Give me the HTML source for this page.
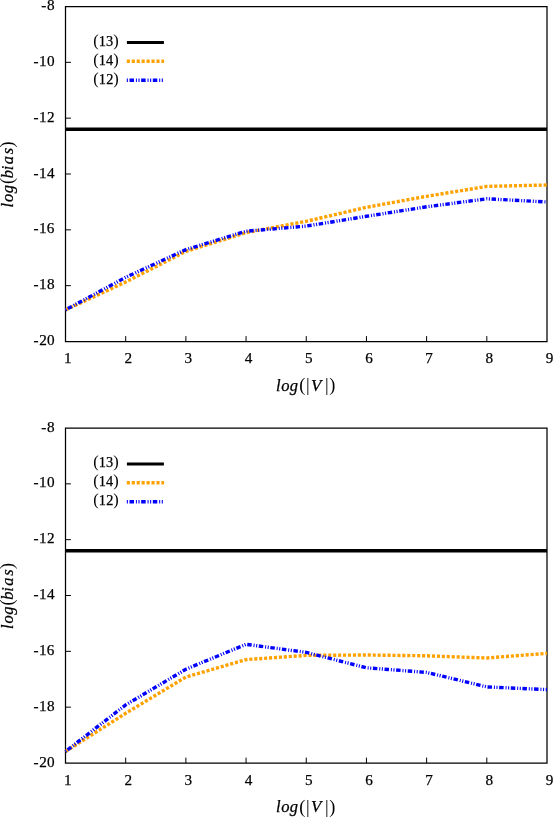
<!DOCTYPE html>
<html><head><meta charset="utf-8"><title>log(bias) vs log(|V|)</title>
<style>
html,body{margin:0;padding:0;background:#fff;}
body{width:553px;height:817px;overflow:hidden;}
svg{display:block;}
text{font-family:"Liberation Serif","DejaVu Serif",serif;fill:#000;stroke:#000;stroke-width:0.25px;}
.tk{stroke:#000;stroke-width:1;}
.ns{stroke:none;}
.fr{fill:none;stroke:#000;stroke-width:1.25;stroke-linejoin:miter;}
.or{fill:none;stroke:#ffa200;stroke-width:3.4;stroke-dasharray:3.1 1.84;}
.bl{fill:none;stroke:#0000ff;stroke-width:3.4;stroke-dasharray:1.1 1.6 4.5 1.9 1.0 1.55;}
</style></head>
<body>
<svg width="553" height="817" viewBox="0 0 553 817">
<text><tspan x="41.31 46.95" y="10.10" font-size="15.2">-8</tspan></text>
<line x1="65.5" y1="62.33" x2="70.9" y2="62.33" class="tk"/>
<text><tspan x="33.61 39.04 46.95" y="65.93" font-size="15.2">-10</tspan></text>
<line x1="65.5" y1="118.17" x2="70.9" y2="118.17" class="tk"/>
<text><tspan x="33.61 39.04 47.04" y="121.77" font-size="15.2">-12</tspan></text>
<line x1="65.5" y1="174.00" x2="70.9" y2="174.00" class="tk"/>
<text><tspan x="33.61 39.04 46.92" y="177.60" font-size="15.2">-14</tspan></text>
<line x1="65.5" y1="229.83" x2="70.9" y2="229.83" class="tk"/>
<text><tspan x="33.61 39.04 46.85" y="233.43" font-size="15.2">-16</tspan></text>
<line x1="65.5" y1="285.67" x2="70.9" y2="285.67" class="tk"/>
<text><tspan x="33.61 39.04 46.95" y="289.27" font-size="15.2">-18</tspan></text>
<text><tspan x="33.61 39.34 46.95" y="345.10" font-size="15.2">-20</tspan></text>
<text><tspan x="64.09" y="363.30" font-size="15.2">1</tspan></text>
<line x1="125.69" y1="341.5" x2="125.69" y2="336.10" class="tk"/>
<text><tspan x="124.57" y="363.30" font-size="15.2">2</tspan></text>
<line x1="185.88" y1="341.5" x2="185.88" y2="336.10" class="tk"/>
<text><tspan x="184.61" y="363.30" font-size="15.2">3</tspan></text>
<line x1="246.06" y1="341.5" x2="246.06" y2="336.10" class="tk"/>
<text><tspan x="244.83" y="363.30" font-size="15.2">4</tspan></text>
<line x1="306.25" y1="341.5" x2="306.25" y2="336.10" class="tk"/>
<text><tspan x="304.91" y="363.30" font-size="15.2">5</tspan></text>
<line x1="366.44" y1="341.5" x2="366.44" y2="336.10" class="tk"/>
<text><tspan x="365.14" y="363.30" font-size="15.2">6</tspan></text>
<line x1="426.62" y1="341.5" x2="426.62" y2="336.10" class="tk"/>
<text><tspan x="425.14" y="363.30" font-size="15.2">7</tspan></text>
<line x1="486.81" y1="341.5" x2="486.81" y2="336.10" class="tk"/>
<text><tspan x="485.61" y="363.30" font-size="15.2">8</tspan></text>
<text><tspan x="545.87" y="363.30" font-size="15.2">9</tspan></text>
<text><tspan x="276.10 281.18 289.76" y="390.80" font-size="16.5" font-style="italic">log</tspan><tspan x="299.20 305.92" y="391.10" font-size="18.3" class="ns">(|</tspan><tspan x="311.00" y="390.80" font-size="17.0" font-style="italic">V</tspan><tspan x="325.02 329.31" y="391.10" font-size="18.3" class="ns">|)</tspan></text>
<g transform="translate(13.2 0) rotate(-90)"><text><tspan x="-207.45 -201.93 -193.34" y="0.00" font-size="16.5" font-style="italic">log</tspan><tspan x="-184.07" y="0.10" font-size="18.4" class="ns">(</tspan><tspan x="-178.13 -170.30 -164.36 -154.21" y="0.00" font-size="16.5" font-style="italic">bias</tspan><tspan x="-147.46" y="0.10" font-size="18.4" class="ns">)</tspan></text></g>
<path d="M65.5 6.5 H547.0 V341.5 H65.5 Z" class="fr"/>
<line x1="65.5" y1="129.25" x2="547.0" y2="129.25" stroke="#000" stroke-width="3.4"/>
<polyline points="65.50,309.9 125.69,282.0 185.88,251.4 246.06,232.6 306.25,221.3 366.44,207.3 426.62,196.3 486.81,186.4 547.00,185.0" class="or"/>
<polyline points="65.50,309.9 125.69,277.3 185.88,249.6 246.06,231.2 306.25,226.1 366.44,216.3 426.62,206.8 486.81,198.8 547.00,202.0" class="bl"/>
<text><tspan x="93.37" y="45.70" font-size="16.4" class="ns">(</tspan><tspan x="98.78 106.06" y="45.50" font-size="14.3">13</tspan><tspan x="113.22" y="45.70" font-size="16.4" class="ns">)</tspan></text>
<text><tspan x="93.37" y="64.80" font-size="16.4" class="ns">(</tspan><tspan x="98.78 106.10" y="64.60" font-size="14.3">14</tspan><tspan x="113.22" y="64.80" font-size="16.4" class="ns">)</tspan></text>
<text><tspan x="93.37" y="83.70" font-size="16.4" class="ns">(</tspan><tspan x="98.78 106.21" y="83.50" font-size="14.3">12</tspan><tspan x="113.22" y="83.70" font-size="16.4" class="ns">)</tspan></text>
<line x1="126.9" y1="42.45" x2="163.9" y2="42.45" stroke="#000" stroke-width="3.1"/>
<line x1="126.8" y1="61.30" x2="164" y2="61.30" class="or"/>
<line x1="126.8" y1="80.20" x2="164.3" y2="80.20" class="bl"/>
<text><tspan x="41.31 46.95" y="431.60" font-size="15.2">-8</tspan></text>
<line x1="65.5" y1="483.83" x2="70.9" y2="483.83" class="tk"/>
<text><tspan x="33.61 39.04 46.95" y="487.43" font-size="15.2">-10</tspan></text>
<line x1="65.5" y1="539.67" x2="70.9" y2="539.67" class="tk"/>
<text><tspan x="33.61 39.04 47.04" y="543.27" font-size="15.2">-12</tspan></text>
<line x1="65.5" y1="595.50" x2="70.9" y2="595.50" class="tk"/>
<text><tspan x="33.61 39.04 46.92" y="599.10" font-size="15.2">-14</tspan></text>
<line x1="65.5" y1="651.33" x2="70.9" y2="651.33" class="tk"/>
<text><tspan x="33.61 39.04 46.85" y="654.93" font-size="15.2">-16</tspan></text>
<line x1="65.5" y1="707.17" x2="70.9" y2="707.17" class="tk"/>
<text><tspan x="33.61 39.04 46.95" y="710.77" font-size="15.2">-18</tspan></text>
<text><tspan x="33.61 39.34 46.95" y="766.60" font-size="15.2">-20</tspan></text>
<text><tspan x="64.09" y="784.80" font-size="15.2">1</tspan></text>
<line x1="125.69" y1="763.0" x2="125.69" y2="757.60" class="tk"/>
<text><tspan x="124.57" y="784.80" font-size="15.2">2</tspan></text>
<line x1="185.88" y1="763.0" x2="185.88" y2="757.60" class="tk"/>
<text><tspan x="184.61" y="784.80" font-size="15.2">3</tspan></text>
<line x1="246.06" y1="763.0" x2="246.06" y2="757.60" class="tk"/>
<text><tspan x="244.83" y="784.80" font-size="15.2">4</tspan></text>
<line x1="306.25" y1="763.0" x2="306.25" y2="757.60" class="tk"/>
<text><tspan x="304.91" y="784.80" font-size="15.2">5</tspan></text>
<line x1="366.44" y1="763.0" x2="366.44" y2="757.60" class="tk"/>
<text><tspan x="365.14" y="784.80" font-size="15.2">6</tspan></text>
<line x1="426.62" y1="763.0" x2="426.62" y2="757.60" class="tk"/>
<text><tspan x="425.14" y="784.80" font-size="15.2">7</tspan></text>
<line x1="486.81" y1="763.0" x2="486.81" y2="757.60" class="tk"/>
<text><tspan x="485.61" y="784.80" font-size="15.2">8</tspan></text>
<text><tspan x="545.87" y="784.80" font-size="15.2">9</tspan></text>
<text><tspan x="276.10 281.18 289.76" y="812.30" font-size="16.5" font-style="italic">log</tspan><tspan x="299.20 305.92" y="812.60" font-size="18.3" class="ns">(|</tspan><tspan x="311.00" y="812.30" font-size="17.0" font-style="italic">V</tspan><tspan x="325.02 329.31" y="812.60" font-size="18.3" class="ns">|)</tspan></text>
<g transform="translate(13.2 0) rotate(-90)"><text><tspan x="-628.95 -623.42 -614.84" y="0.00" font-size="16.5" font-style="italic">log</tspan><tspan x="-605.57" y="0.10" font-size="18.4" class="ns">(</tspan><tspan x="-599.63 -591.80 -585.86 -575.71" y="0.00" font-size="16.5" font-style="italic">bias</tspan><tspan x="-568.96" y="0.10" font-size="18.4" class="ns">)</tspan></text></g>
<path d="M65.5 428.0 H547.0 V763.0 H65.5 Z" class="fr"/>
<line x1="65.5" y1="550.75" x2="547.0" y2="550.75" stroke="#000" stroke-width="3.4"/>
<polyline points="65.50,751.5 125.69,713.3 185.88,677.0 246.06,659.6 306.25,655.4 366.44,655.0 426.62,655.8 486.81,658.0 547.00,653.4" class="or"/>
<polyline points="65.50,751.5 125.69,704.9 185.88,669.2 246.06,644.3 306.25,652.4 366.44,667.8 426.62,672.4 486.81,686.9 547.00,689.6" class="bl"/>
<text><tspan x="93.37" y="467.20" font-size="16.4" class="ns">(</tspan><tspan x="98.78 106.06" y="467.00" font-size="14.3">13</tspan><tspan x="113.22" y="467.20" font-size="16.4" class="ns">)</tspan></text>
<text><tspan x="93.37" y="486.30" font-size="16.4" class="ns">(</tspan><tspan x="98.78 106.10" y="486.10" font-size="14.3">14</tspan><tspan x="113.22" y="486.30" font-size="16.4" class="ns">)</tspan></text>
<text><tspan x="93.37" y="505.20" font-size="16.4" class="ns">(</tspan><tspan x="98.78 106.21" y="505.00" font-size="14.3">12</tspan><tspan x="113.22" y="505.20" font-size="16.4" class="ns">)</tspan></text>
<line x1="126.9" y1="463.95" x2="163.9" y2="463.95" stroke="#000" stroke-width="3.1"/>
<line x1="126.8" y1="482.80" x2="164" y2="482.80" class="or"/>
<line x1="126.8" y1="501.70" x2="164.3" y2="501.70" class="bl"/>
</svg>
</body></html>
